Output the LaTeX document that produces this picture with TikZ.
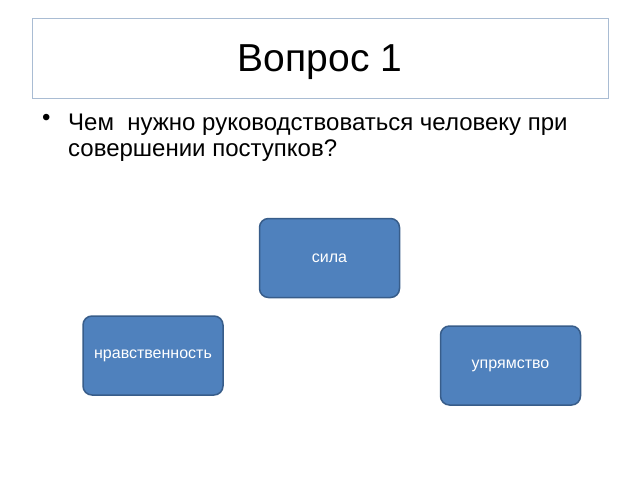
\documentclass[tikz,border=0pt]{standalone}
\usepackage{fontspec}
\setmainfont{Liberation Sans}
\definecolor{boxfill}{HTML}{4F81BD}
\definecolor{boxline}{HTML}{385D8A}
\definecolor{titleline}{HTML}{A9BCD3}
\begin{document}
\begin{tikzpicture}[x=1pt,y=-1pt,
  opt/.style={draw=boxline,line width=1.5pt,fill=boxfill,rounded corners=9pt,minimum width=140pt,minimum height=79pt,text=white,font=\fontsize{16}{18}\selectfont}]
\useasboundingbox (0,0) rectangle (640,480);
\node[draw=titleline,line width=0.8pt,minimum width=576pt,minimum height=80pt] (title) at (320,58) {};
\node[font=\fontsize{39}{44}\selectfont] (tt) at (320,62) {Вопрос 1};
\node[anchor=north west,inner sep=0pt,align=left,font=\fontsize{24}{25.5}\selectfont] (bul) at (68,114) {Чем\ \ нужно руководствоваться человеку при\\совершении поступков?};
\node[anchor=north west,inner sep=0pt,font=\fontsize{24}{25.5}\selectfont] (dot) at (42,114) {•};
\node[opt] (sila) at (329.5,258) {сила};
\node[opt] (nrav) at (153,355.5) {\raisebox{2pt}{нравственность}};
\node[opt] (upr) at (510.5,365.5) {\raisebox{-2pt}{упрямство}};
\end{tikzpicture}
\end{document}
